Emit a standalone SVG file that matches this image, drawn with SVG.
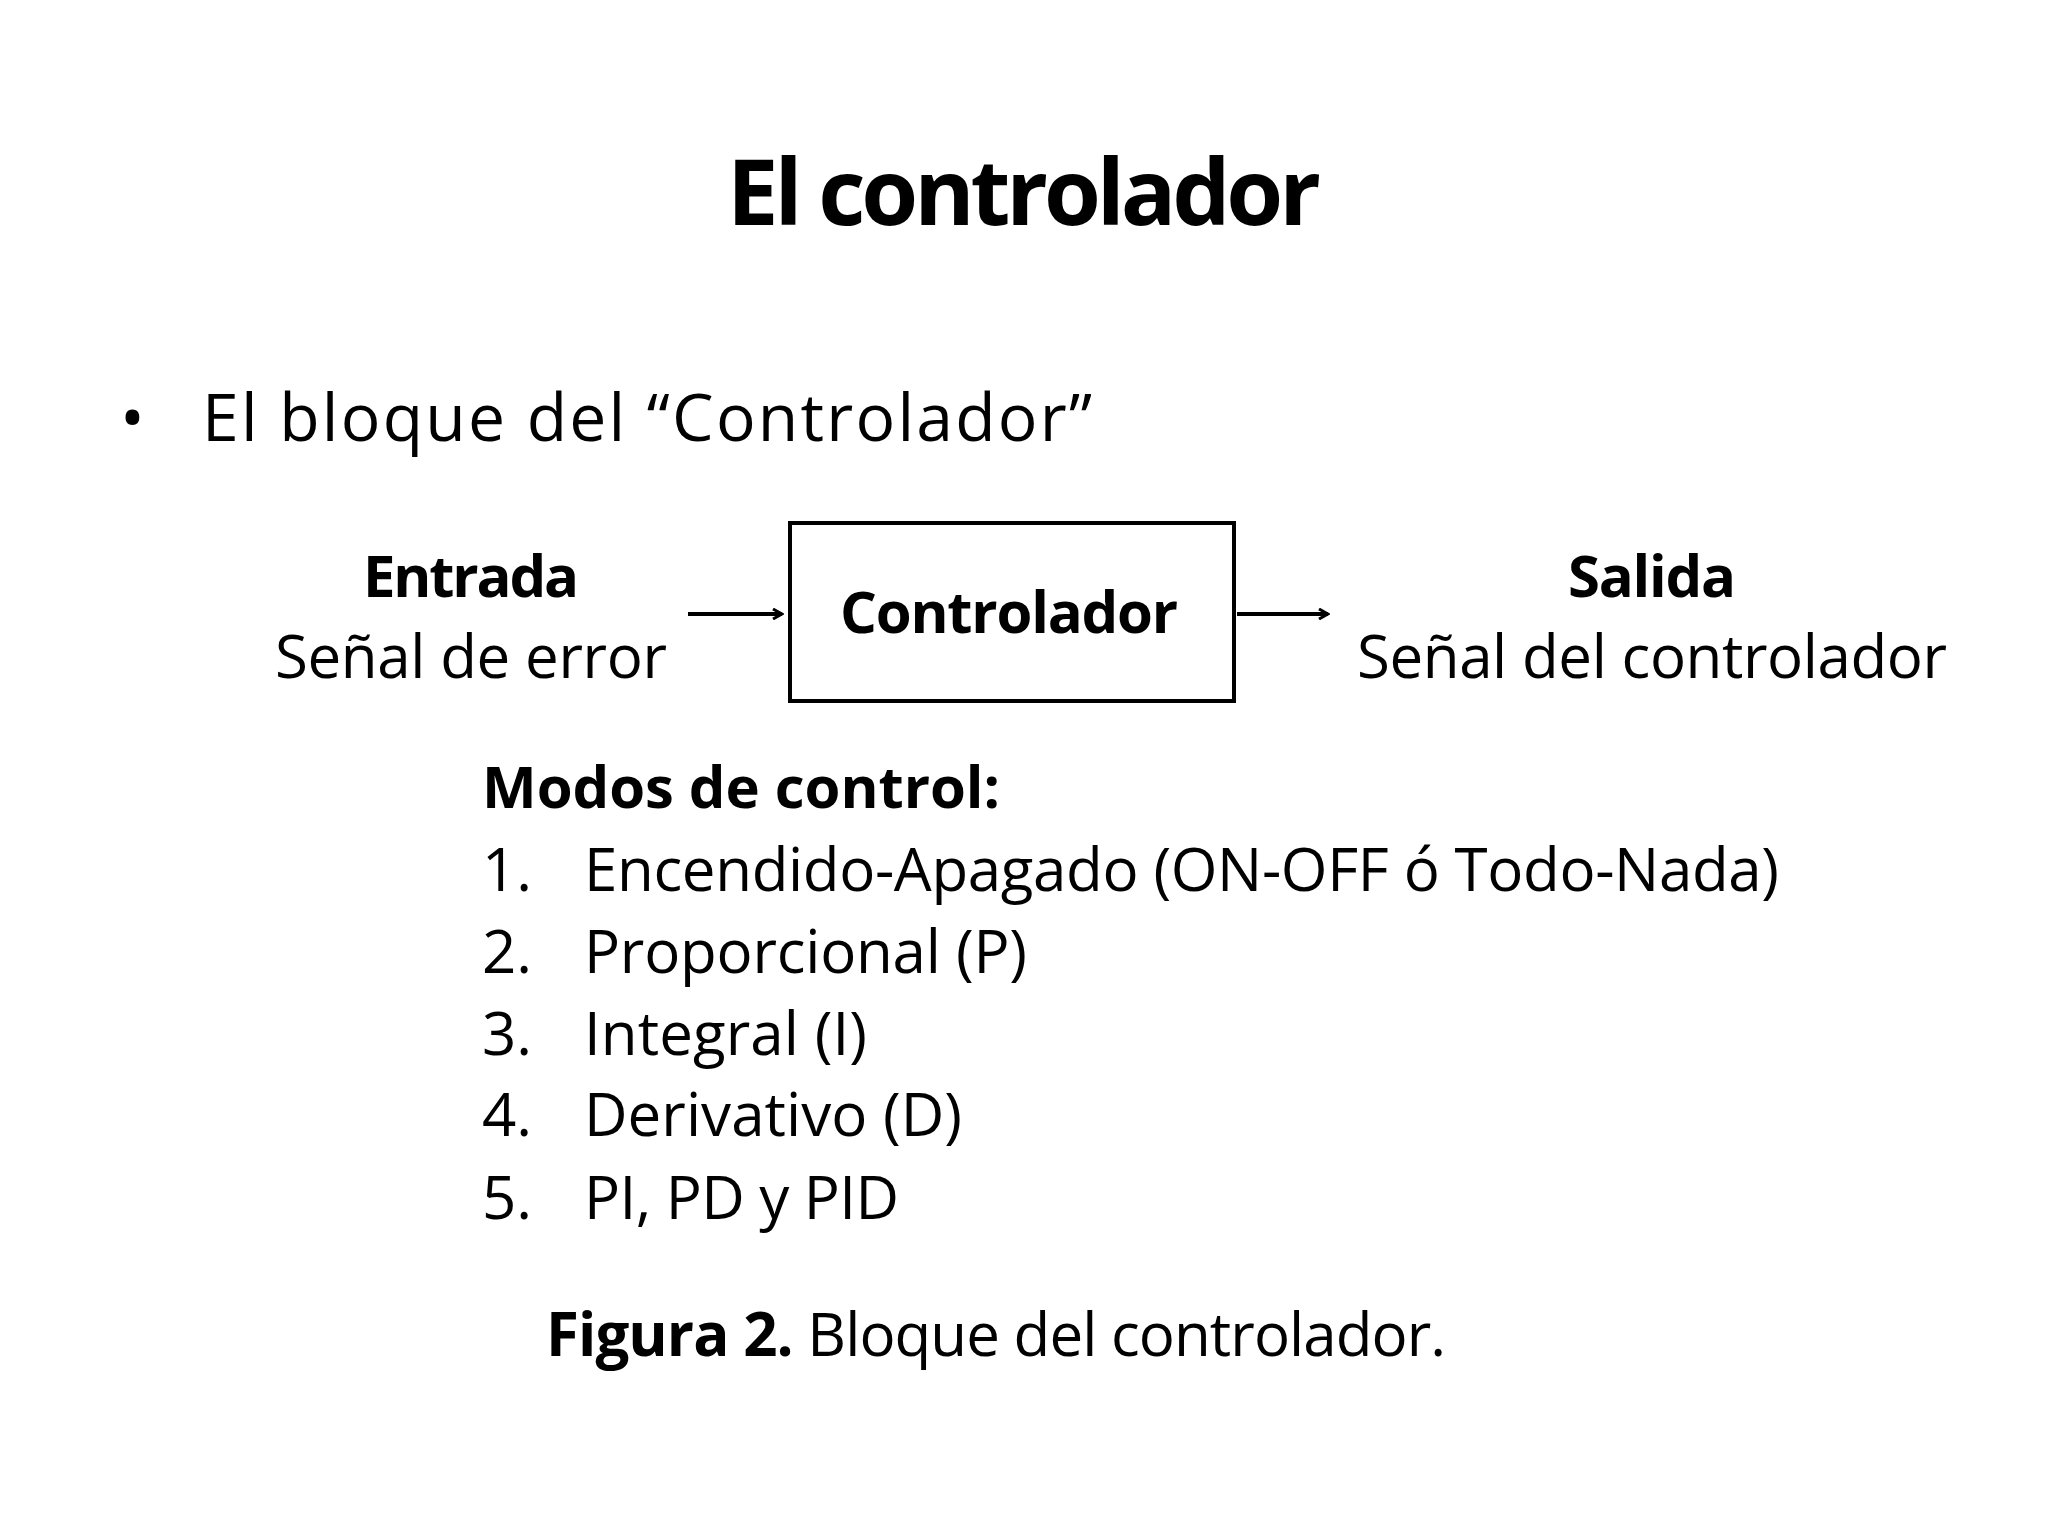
<svg xmlns="http://www.w3.org/2000/svg" width="2048" height="1536" viewBox="0 0 2048 1536">
<style>
text{font-family:"Open Sans","Noto Sans",sans-serif;fill:#000}
.b{font-weight:bold}
.t{font-size:66px}
</style>
<defs><marker id="a" markerWidth="12" markerHeight="12" refX="10" refY="6" orient="auto" markerUnits="userSpaceOnUse"><path d="M1,1 L10,6 L1,11" fill="none" stroke="#000" stroke-width="3"/></marker></defs>
<rect width="2048" height="1536" fill="#fff"/>
<text x="1024" y="225" font-size="92" class="b" text-anchor="middle" textLength="594">El controlador</text>
<text x="120" y="441" font-size="66">•</text>
<text x="202" y="441" class="t" textLength="890">El bloque del “Controlador”</text>
<g id="controlador"><rect x="790" y="523" width="444" height="178" fill="#fff" stroke="#000" stroke-width="4"/>
<text x="1009" y="633" font-size="58" class="b" text-anchor="middle" textLength="338">Controlador</text></g>
<g id="entrada"><text x="471" y="597" font-size="58" class="b" text-anchor="middle" textLength="216">Entrada</text>
<text x="471" y="678" font-size="60" text-anchor="middle" textLength="392">Señal de error</text></g>
<g id="salida"><text x="1652" y="597" font-size="58" class="b" text-anchor="middle" textLength="168">Salida</text>
<text x="1652" y="678" font-size="60" text-anchor="middle" textLength="590">Señal del controlador</text></g>
<g id="connectors" stroke="#000" stroke-width="4" fill="none">
<line x1="688" y1="614" x2="782" y2="614" marker-end="url(#a)"/>
<line x1="1237" y1="614" x2="1328" y2="614" marker-end="url(#a)"/>
</g>
<text x="482" y="808" font-size="58" class="b" textLength="518">Modos de control:</text>
<g font-size="60">
<text x="482" y="891">1.</text><text x="584" y="891" textLength="1195">Encendido-Apagado (ON-OFF ó Todo-Nada)</text>
<text x="482" y="973">2.</text><text x="584" y="973" textLength="443">Proporcional (P)</text>
<text x="482" y="1055">3.</text><text x="584" y="1055" textLength="283">Integral (I)</text>
<text x="482" y="1136">4.</text><text x="584" y="1136" textLength="378">Derivativo (D)</text>
<text x="482" y="1219">5.</text><text x="584" y="1219" textLength="315">PI, PD y PID</text>
</g>
<text x="546" y="1356" font-size="60" textLength="900"><tspan class="b">Figura 2.</tspan> Bloque del controlador.</text>
</svg>
